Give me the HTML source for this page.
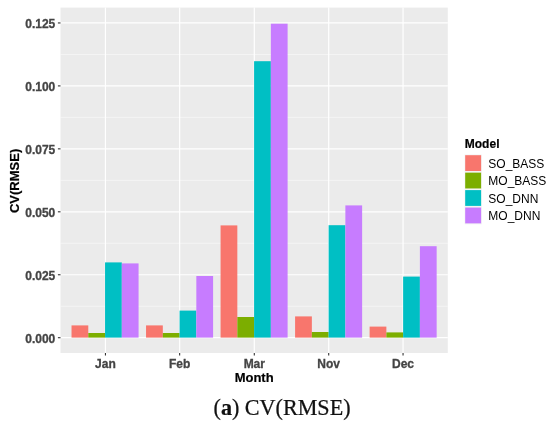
<!DOCTYPE html><html><head><meta charset="utf-8"><title>CV(RMSE)</title>
<style>html,body{margin:0;padding:0;background:#fff}body{width:550px;height:426px;overflow:hidden}svg{display:block}text{font-family:"Liberation Sans",Arial,Helvetica,sans-serif}.ax{font-size:12px;font-weight:bold;fill:#444;stroke:#444;stroke-width:0.3px}.ti{font-size:13px;font-weight:bold;fill:#000;stroke:#000;stroke-width:0.2px}.lg{font-size:12px;fill:#000}.cap{font-family:"Liberation Serif","Times New Roman",serif;font-size:23.5px;fill:#111;stroke:#111;stroke-width:0.25px}</style></head><body>
<svg width="550" height="426" viewBox="0 0 550 426">
<rect x="0" y="0" width="550" height="426" fill="#ffffff"/>
<rect x="60.5" y="7.6" width="387.30" height="345.40" fill="#EBEBEB"/>
<line x1="60.5" x2="447.8" y1="306.22" y2="306.22" stroke="#fff" stroke-opacity="0.7" stroke-width="0.7"/>
<line x1="60.5" x2="447.8" y1="243.27" y2="243.27" stroke="#fff" stroke-opacity="0.7" stroke-width="0.7"/>
<line x1="60.5" x2="447.8" y1="180.32" y2="180.32" stroke="#fff" stroke-opacity="0.7" stroke-width="0.7"/>
<line x1="60.5" x2="447.8" y1="117.37" y2="117.37" stroke="#fff" stroke-opacity="0.7" stroke-width="0.7"/>
<line x1="60.5" x2="447.8" y1="54.42" y2="54.42" stroke="#fff" stroke-opacity="0.7" stroke-width="0.7"/>
<line x1="60.5" x2="447.8" y1="337.70" y2="337.70" stroke="#fff" stroke-width="1.2"/>
<line x1="60.5" x2="447.8" y1="274.75" y2="274.75" stroke="#fff" stroke-width="1.2"/>
<line x1="60.5" x2="447.8" y1="211.80" y2="211.80" stroke="#fff" stroke-width="1.2"/>
<line x1="60.5" x2="447.8" y1="148.85" y2="148.85" stroke="#fff" stroke-width="1.2"/>
<line x1="60.5" x2="447.8" y1="85.90" y2="85.90" stroke="#fff" stroke-width="1.2"/>
<line x1="60.5" x2="447.8" y1="22.95" y2="22.95" stroke="#fff" stroke-width="1.2"/>
<line x1="105.45" x2="105.45" y1="7.6" y2="353.0" stroke="#fff" stroke-width="1.2"/>
<line x1="179.65" x2="179.65" y1="7.6" y2="353.0" stroke="#fff" stroke-width="1.2"/>
<line x1="254.30" x2="254.30" y1="7.6" y2="353.0" stroke="#fff" stroke-width="1.2"/>
<line x1="328.70" x2="328.70" y1="7.6" y2="353.0" stroke="#fff" stroke-width="1.2"/>
<line x1="403.05" x2="403.05" y1="7.6" y2="353.0" stroke="#fff" stroke-width="1.2"/>
<rect x="71.53" y="325.40" width="16.76" height="12.20" fill="#F8766D"/>
<rect x="88.29" y="333.00" width="16.76" height="4.60" fill="#7CAE00"/>
<rect x="105.05" y="262.40" width="16.76" height="75.20" fill="#00BFC4"/>
<rect x="121.81" y="263.40" width="16.76" height="74.20" fill="#C77CFF"/>
<rect x="146.05" y="325.40" width="16.76" height="12.20" fill="#F8766D"/>
<rect x="162.81" y="333.00" width="16.76" height="4.60" fill="#7CAE00"/>
<rect x="179.57" y="310.60" width="16.76" height="27.00" fill="#00BFC4"/>
<rect x="196.33" y="276.00" width="16.76" height="61.60" fill="#C77CFF"/>
<rect x="220.57" y="225.40" width="16.76" height="112.20" fill="#F8766D"/>
<rect x="237.33" y="317.00" width="16.76" height="20.60" fill="#7CAE00"/>
<rect x="254.09" y="61.20" width="16.76" height="276.40" fill="#00BFC4"/>
<rect x="270.85" y="23.70" width="16.76" height="313.90" fill="#C77CFF"/>
<rect x="295.09" y="316.40" width="16.76" height="21.20" fill="#F8766D"/>
<rect x="311.85" y="332.00" width="16.76" height="5.60" fill="#7CAE00"/>
<rect x="328.61" y="225.20" width="16.76" height="112.40" fill="#00BFC4"/>
<rect x="345.37" y="205.40" width="16.76" height="132.20" fill="#C77CFF"/>
<rect x="369.61" y="326.60" width="16.76" height="11.00" fill="#F8766D"/>
<rect x="386.37" y="332.40" width="16.76" height="5.20" fill="#7CAE00"/>
<rect x="403.13" y="276.60" width="16.76" height="61.00" fill="#00BFC4"/>
<rect x="419.89" y="246.20" width="16.76" height="91.40" fill="#C77CFF"/>
<line x1="57.90" x2="60.5" y1="337.70" y2="337.70" stroke="#333" stroke-width="1.1"/>
<text class="ax" x="55.30" y="342.80" text-anchor="end">0.000</text>
<line x1="57.90" x2="60.5" y1="274.75" y2="274.75" stroke="#333" stroke-width="1.1"/>
<text class="ax" x="55.30" y="279.85" text-anchor="end">0.025</text>
<line x1="57.90" x2="60.5" y1="211.80" y2="211.80" stroke="#333" stroke-width="1.1"/>
<text class="ax" x="55.30" y="216.90" text-anchor="end">0.050</text>
<line x1="57.90" x2="60.5" y1="148.85" y2="148.85" stroke="#333" stroke-width="1.1"/>
<text class="ax" x="55.30" y="153.95" text-anchor="end">0.075</text>
<line x1="57.90" x2="60.5" y1="85.90" y2="85.90" stroke="#333" stroke-width="1.1"/>
<text class="ax" x="55.30" y="91.00" text-anchor="end">0.100</text>
<line x1="57.90" x2="60.5" y1="22.95" y2="22.95" stroke="#333" stroke-width="1.1"/>
<text class="ax" x="55.30" y="28.05" text-anchor="end">0.125</text>
<line x1="105.45" x2="105.45" y1="353.0" y2="355.60" stroke="#333" stroke-width="1.1"/>
<text class="ax" x="105.45" y="367.8" text-anchor="middle">Jan</text>
<line x1="179.65" x2="179.65" y1="353.0" y2="355.60" stroke="#333" stroke-width="1.1"/>
<text class="ax" x="179.65" y="367.8" text-anchor="middle">Feb</text>
<line x1="254.30" x2="254.30" y1="353.0" y2="355.60" stroke="#333" stroke-width="1.1"/>
<text class="ax" x="254.30" y="367.8" text-anchor="middle">Mar</text>
<line x1="328.70" x2="328.70" y1="353.0" y2="355.60" stroke="#333" stroke-width="1.1"/>
<text class="ax" x="328.70" y="367.8" text-anchor="middle">Nov</text>
<line x1="403.05" x2="403.05" y1="353.0" y2="355.60" stroke="#333" stroke-width="1.1"/>
<text class="ax" x="403.05" y="367.8" text-anchor="middle">Dec</text>
<text class="ti" x="254.15" y="382.3" text-anchor="middle">Month</text>
<text class="ti" transform="translate(19,180.90) rotate(-90)" text-anchor="middle">CV(RMSE)</text>
<text class="ti" style="font-size:12px" x="464.8" y="147.6">Model</text>
<rect x="464.6" y="154.50" width="17.2" height="17.45" fill="#F2F2F2"/>
<rect x="465.2" y="155.20" width="15.9" height="15.8" fill="#F8766D"/>
<text class="lg" x="488.3" y="167.50">SO_BASS</text>
<rect x="464.6" y="171.95" width="17.2" height="17.45" fill="#F2F2F2"/>
<rect x="465.2" y="172.65" width="15.9" height="15.8" fill="#7CAE00"/>
<text class="lg" x="488.3" y="185.00">MO_BASS</text>
<rect x="464.6" y="189.40" width="17.2" height="17.45" fill="#F2F2F2"/>
<rect x="465.2" y="190.10" width="15.9" height="15.8" fill="#00BFC4"/>
<text class="lg" x="488.3" y="202.50">SO_DNN</text>
<rect x="464.6" y="206.85" width="17.2" height="17.45" fill="#F2F2F2"/>
<rect x="465.2" y="207.55" width="15.9" height="15.8" fill="#C77CFF"/>
<text class="lg" x="488.3" y="220.00">MO_DNN</text>
<text class="cap" transform="translate(213.5,415.1) scale(0.942,1)">(<tspan font-weight="bold">a</tspan>) CV(RMSE)</text>
</svg></body></html>
